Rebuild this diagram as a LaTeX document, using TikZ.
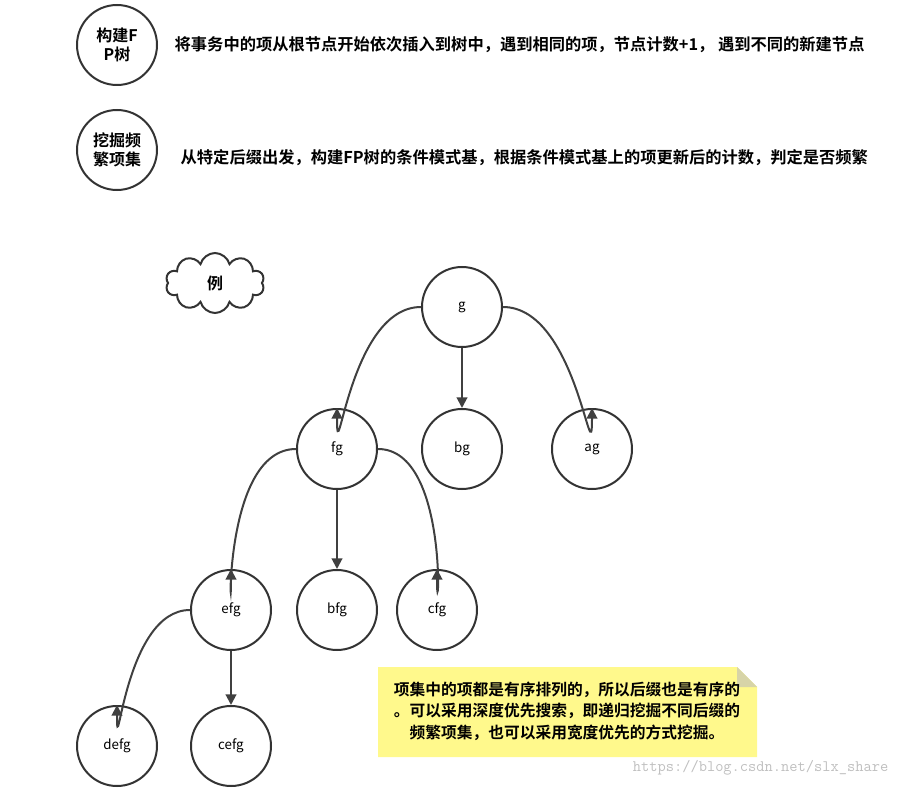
\documentclass[tikz,border=0pt]{standalone}
\usepackage{fontspec}
\newfontfamily\cjk{Noto Sans CJK SC}[BoldFont={Noto Sans CJK SC Bold}]
\usetikzlibrary{arrows.meta,shapes.symbols}
\tikzset{
	tnode/.style={draw=black!80,line width=1.5pt,circle,minimum size=60pt,inner sep=0pt,font=\cjk\fontsize{10}{12}\selectfont},
	hnode/.style={tnode,font=\cjk\bfseries\fontsize{12}{14}\selectfont,align=center},
	link/.style={draw=black!75,line width=1.5pt,-{Triangle[length=8pt,width=8pt]}},
	htext/.style={anchor=west,font=\cjk\bfseries\fontsize{12.2}{14}\selectfont}
}
\begin{document}
\begin{tikzpicture}[x=0.75pt,y=0.75pt,yscale=-1]
	\useasboundingbox (0,0) rectangle (903,788);
	
	% header
	\node[hnode] (build) at (117,45) {构建F\\P树};
	\node[hnode] (mine) at (117,150) {挖掘频\\繁项集};
	\node[htext] (buildtxt) at (170,45) {将事务中的项从根节点开始依次插入到树中，遇到相同的项，节点计数+1， 遇到不同的新建节点};
	\node[htext] (minetxt) at (176,158) {从特定后缀出发，构建FP树的条件模式基，根据条件模式基上的项更新后的计数，判定是否频繁};
	
	\node[cloud,draw=black!80,line width=1.5pt,cloud puffs=10,minimum width=74pt,minimum height=45pt,font=\cjk\bfseries\fontsize{12}{14}\selectfont] (ex) at (215,283) {例};
	
	% tree
	\node[tnode] (g) at (462,307) {g};
	\node[tnode] (fg) at (337,449) {fg};
	\node[tnode] (bg) at (462,449) {bg};
	\node[tnode] (ag) at (592,449) {ag};
	\node[tnode] (efg) at (231,610) {efg};
	\node[tnode] (bfg) at (337,610) {bfg};
	\node[tnode] (cfg) at (437,610) {cfg};
	\node[tnode] (defg) at (117,746) {defg};
	\node[tnode] (cefg) at (231,746) {cefg};
	
	\draw[link] (g.west) to[out=180,in=90,looseness=1.4] (fg.north);
	\draw[link] (g) -- (bg);
	\draw[link] (g.east) to[out=0,in=90,looseness=1.4] (ag.north);
	\draw[link] (fg.west) to[out=180,in=90,looseness=1.4] (efg.north);
	\draw[link] (fg) -- (bfg);
	\draw[link] (fg.east) to[out=0,in=90,looseness=1.4] (cfg.north);
	\draw[link] (efg.west) to[out=180,in=90,looseness=1.4] (defg.north);
	\draw[link] (efg) -- (cefg);
	
	% note
	\fill[yellow!45!white] (378,667) -- (737,667) -- (757,687) -- (757,757) -- (378,757) -- cycle;
	\fill[yellow!55!black!40] (737,667) -- (757,687) -- (737,687) -- cycle;
	\node[font=\cjk\bfseries\fontsize{11.8}{16}\selectfont,align=center] (note) at (567,711) {项集中的项都是有序排列的，所以后缀也是有序的\\。可以采用深度优先搜索，即递归挖掘不同后缀的\\频繁项集，也可以采用宽度优先的方式挖掘。};
	\node[anchor=east,text=black!25,font=\ttfamily\fontsize{12}{14}\selectfont] (mark) at (893,768) {https://blog.csdn.net/slx\_share};
\end{tikzpicture}
\end{document}
